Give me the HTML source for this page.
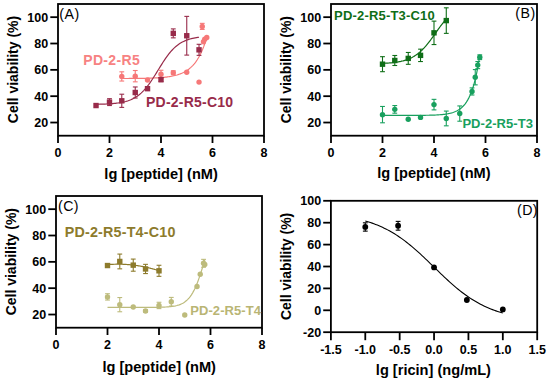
<!DOCTYPE html>
<html><head><meta charset="utf-8"><style>
html,body{margin:0;padding:0;background:#fff;overflow:hidden;}
svg{display:block;font-family:"Liberation Sans", sans-serif;}
</style></head><body>
<svg width="550" height="381" viewBox="0 0 550 381">
<rect width="550" height="381" fill="#fff"/>
<rect x="58.00" y="4.00" width="206.00" height="131.70" fill="none" stroke="#000" stroke-width="1.8"/>
<line x1="50.30" y1="122.53" x2="58.00" y2="122.53" stroke="#000" stroke-width="1.8" />
<text x="48.20" y="126.93" font-size="12.5" text-anchor="end" font-weight="bold" fill="#000" >20</text>
<line x1="50.30" y1="96.19" x2="58.00" y2="96.19" stroke="#000" stroke-width="1.8" />
<text x="48.20" y="100.59" font-size="12.5" text-anchor="end" font-weight="bold" fill="#000" >40</text>
<line x1="50.30" y1="69.85" x2="58.00" y2="69.85" stroke="#000" stroke-width="1.8" />
<text x="48.20" y="74.25" font-size="12.5" text-anchor="end" font-weight="bold" fill="#000" >60</text>
<line x1="50.30" y1="43.51" x2="58.00" y2="43.51" stroke="#000" stroke-width="1.8" />
<text x="48.20" y="47.91" font-size="12.5" text-anchor="end" font-weight="bold" fill="#000" >80</text>
<line x1="50.30" y1="17.17" x2="58.00" y2="17.17" stroke="#000" stroke-width="1.8" />
<text x="48.20" y="21.57" font-size="12.5" text-anchor="end" font-weight="bold" fill="#000" >100</text>
<line x1="58.00" y1="135.70" x2="58.00" y2="143.00" stroke="#000" stroke-width="1.8" />
<text x="58.00" y="156.90" font-size="12.5" text-anchor="middle" font-weight="bold" fill="#000" >0</text>
<line x1="109.50" y1="135.70" x2="109.50" y2="143.00" stroke="#000" stroke-width="1.8" />
<text x="109.50" y="156.90" font-size="12.5" text-anchor="middle" font-weight="bold" fill="#000" >2</text>
<line x1="161.00" y1="135.70" x2="161.00" y2="143.00" stroke="#000" stroke-width="1.8" />
<text x="161.00" y="156.90" font-size="12.5" text-anchor="middle" font-weight="bold" fill="#000" >4</text>
<line x1="212.50" y1="135.70" x2="212.50" y2="143.00" stroke="#000" stroke-width="1.8" />
<text x="212.50" y="156.90" font-size="12.5" text-anchor="middle" font-weight="bold" fill="#000" >6</text>
<line x1="264.00" y1="135.70" x2="264.00" y2="143.00" stroke="#000" stroke-width="1.8" />
<text x="264.00" y="156.90" font-size="12.5" text-anchor="middle" font-weight="bold" fill="#000" >8</text>
<polyline points="121.78,78.50 122.85,78.50 123.91,78.50 124.97,78.49 126.03,78.49 127.10,78.48 128.16,78.48 129.22,78.47 130.28,78.46 131.35,78.46 132.41,78.45 133.47,78.44 134.53,78.43 135.60,78.42 136.66,78.41 137.72,78.40 138.78,78.39 139.85,78.37 140.91,78.36 141.97,78.34 143.03,78.32 144.10,78.30 145.16,78.28 146.22,78.26 147.28,78.23 148.35,78.20 149.41,78.17 150.47,78.14 151.53,78.10 152.60,78.06 153.66,78.01 154.72,77.97 155.78,77.91 156.85,77.86 157.91,77.79 158.97,77.73 160.03,77.65 161.10,77.57 162.16,77.48 163.22,77.39 164.28,77.28 165.35,77.17 166.41,77.04 167.47,76.91 168.53,76.76 169.60,76.59 170.66,76.42 171.72,76.22 172.78,76.01 173.85,75.78 174.91,75.53 175.97,75.26 177.03,74.96 178.10,74.63 179.16,74.27 180.22,73.89 181.28,73.46 182.35,73.00 183.41,72.49 184.47,71.94 185.53,71.34 186.60,70.69 187.66,69.97 188.72,69.19 189.78,68.34 190.85,67.41 191.91,66.40 192.97,65.29 194.03,64.09 195.10,62.77 196.16,61.34 197.22,59.77 198.28,58.06 199.35,56.20 200.41,54.16 201.47,51.94 202.53,49.52 203.60,46.88 204.66,44.00 205.72,40.85 206.78,37.42" fill="none" stroke="#F67878" stroke-width="1.2"/>
<polyline points="96.03,104.30 97.32,104.28 98.61,104.25 99.90,104.22 101.18,104.18 102.47,104.14 103.76,104.10 105.05,104.05 106.33,103.99 107.62,103.93 108.91,103.86 110.20,103.78 111.48,103.68 112.77,103.58 114.06,103.46 115.35,103.33 116.63,103.19 117.92,103.02 119.21,102.83 120.50,102.62 121.78,102.39 123.07,102.12 124.36,101.83 125.65,101.49 126.93,101.12 128.22,100.71 129.51,100.24 130.80,99.73 132.08,99.16 133.37,98.52 134.66,97.82 135.95,97.04 137.23,96.19 138.52,95.25 139.81,94.23 141.10,93.11 142.38,91.90 143.67,90.59 144.96,89.18 146.25,87.68 147.53,86.07 148.82,84.38 150.11,82.59 151.40,80.72 152.68,78.78 153.97,76.78 155.26,74.74 156.55,72.66 157.83,70.56 159.12,68.46 160.41,66.37 161.70,64.31 162.98,62.29 164.27,60.33 165.56,58.43 166.85,56.62 168.13,54.89 169.42,53.25 170.71,51.70 172.00,50.26 173.28,48.92 174.57,47.67 175.86,46.52 177.15,45.46 178.43,44.49 179.72,43.61 181.01,42.81 182.30,42.08 183.58,41.42 184.87,40.83 186.16,40.29 187.45,39.81 188.73,39.38 190.02,38.99 191.31,38.65 192.60,38.34 193.88,38.06 195.17,37.82 196.46,37.60 197.75,37.40 199.03,37.23" fill="none" stroke="#982B4A" stroke-width="1.2"/>
<line x1="121.78" y1="71.83" x2="121.78" y2="81.04" stroke="#F67878" stroke-width="1.1" />
<line x1="119.38" y1="71.83" x2="124.18" y2="71.83" stroke="#F67878" stroke-width="1.1" />
<line x1="119.38" y1="81.04" x2="124.18" y2="81.04" stroke="#F67878" stroke-width="1.1" />
<circle cx="121.78" cy="76.44" r="2.7" fill="#F67878"/>
<line x1="135.25" y1="70.51" x2="135.25" y2="81.83" stroke="#F67878" stroke-width="1.1" />
<line x1="132.85" y1="70.51" x2="137.65" y2="70.51" stroke="#F67878" stroke-width="1.1" />
<line x1="132.85" y1="81.83" x2="137.65" y2="81.83" stroke="#F67878" stroke-width="1.1" />
<circle cx="135.25" cy="76.17" r="2.7" fill="#F67878"/>
<circle cx="147.53" cy="79.99" r="2.7" fill="#F67878"/>
<line x1="161.00" y1="70.25" x2="161.00" y2="78.15" stroke="#F67878" stroke-width="1.1" />
<line x1="158.60" y1="70.25" x2="163.40" y2="70.25" stroke="#F67878" stroke-width="1.1" />
<line x1="158.60" y1="78.15" x2="163.40" y2="78.15" stroke="#F67878" stroke-width="1.1" />
<circle cx="161.00" cy="74.20" r="2.7" fill="#F67878"/>
<line x1="173.28" y1="70.77" x2="173.28" y2="74.72" stroke="#F67878" stroke-width="1.1" />
<line x1="170.88" y1="70.77" x2="175.68" y2="70.77" stroke="#F67878" stroke-width="1.1" />
<line x1="170.88" y1="74.72" x2="175.68" y2="74.72" stroke="#F67878" stroke-width="1.1" />
<circle cx="173.28" cy="72.75" r="2.7" fill="#F67878"/>
<circle cx="186.75" cy="72.22" r="2.7" fill="#F67878"/>
<circle cx="199.03" cy="82.10" r="2.7" fill="#F67878"/>
<line x1="202.25" y1="23.36" x2="202.25" y2="29.42" stroke="#F67878" stroke-width="1.1" />
<line x1="199.85" y1="23.36" x2="204.65" y2="23.36" stroke="#F67878" stroke-width="1.1" />
<line x1="199.85" y1="29.42" x2="204.65" y2="29.42" stroke="#F67878" stroke-width="1.1" />
<circle cx="202.25" cy="26.39" r="2.7" fill="#F67878"/>
<circle cx="203.49" cy="41.80" r="2.7" fill="#F67878"/>
<circle cx="204.75" cy="39.16" r="2.7" fill="#F67878"/>
<circle cx="206.78" cy="37.45" r="2.7" fill="#F67878"/>
<rect x="93.33" y="102.84" width="5.4" height="5.4" fill="#982B4A"/>
<line x1="109.50" y1="98.69" x2="109.50" y2="105.54" stroke="#982B4A" stroke-width="1.1" />
<line x1="107.10" y1="98.69" x2="111.90" y2="98.69" stroke="#982B4A" stroke-width="1.1" />
<line x1="107.10" y1="105.54" x2="111.90" y2="105.54" stroke="#982B4A" stroke-width="1.1" />
<rect x="106.80" y="99.42" width="5.4" height="5.4" fill="#982B4A"/>
<line x1="121.78" y1="94.21" x2="121.78" y2="107.38" stroke="#982B4A" stroke-width="1.1" />
<line x1="119.38" y1="94.21" x2="124.18" y2="94.21" stroke="#982B4A" stroke-width="1.1" />
<line x1="119.38" y1="107.38" x2="124.18" y2="107.38" stroke="#982B4A" stroke-width="1.1" />
<rect x="119.08" y="98.10" width="5.4" height="5.4" fill="#982B4A"/>
<line x1="135.25" y1="86.97" x2="135.25" y2="98.03" stroke="#982B4A" stroke-width="1.1" />
<line x1="132.85" y1="86.97" x2="137.65" y2="86.97" stroke="#982B4A" stroke-width="1.1" />
<line x1="132.85" y1="98.03" x2="137.65" y2="98.03" stroke="#982B4A" stroke-width="1.1" />
<rect x="132.55" y="89.80" width="5.4" height="5.4" fill="#982B4A"/>
<rect x="144.83" y="85.98" width="5.4" height="5.4" fill="#982B4A"/>
<line x1="161.00" y1="77.49" x2="161.00" y2="81.70" stroke="#982B4A" stroke-width="1.1" />
<line x1="158.60" y1="77.49" x2="163.40" y2="77.49" stroke="#982B4A" stroke-width="1.1" />
<line x1="158.60" y1="81.70" x2="163.40" y2="81.70" stroke="#982B4A" stroke-width="1.1" />
<rect x="158.30" y="76.90" width="5.4" height="5.4" fill="#982B4A"/>
<line x1="173.28" y1="28.89" x2="173.28" y2="37.85" stroke="#982B4A" stroke-width="1.1" />
<line x1="170.88" y1="28.89" x2="175.68" y2="28.89" stroke="#982B4A" stroke-width="1.1" />
<line x1="170.88" y1="37.85" x2="175.68" y2="37.85" stroke="#982B4A" stroke-width="1.1" />
<rect x="170.58" y="30.67" width="5.4" height="5.4" fill="#982B4A"/>
<line x1="186.75" y1="16.38" x2="186.75" y2="55.10" stroke="#982B4A" stroke-width="1.1" />
<line x1="184.35" y1="16.38" x2="189.15" y2="16.38" stroke="#982B4A" stroke-width="1.1" />
<line x1="184.35" y1="55.10" x2="189.15" y2="55.10" stroke="#982B4A" stroke-width="1.1" />
<rect x="184.05" y="33.04" width="5.4" height="5.4" fill="#982B4A"/>
<line x1="199.03" y1="44.30" x2="199.03" y2="55.36" stroke="#982B4A" stroke-width="1.1" />
<line x1="196.63" y1="44.30" x2="201.43" y2="44.30" stroke="#982B4A" stroke-width="1.1" />
<line x1="196.63" y1="55.36" x2="201.43" y2="55.36" stroke="#982B4A" stroke-width="1.1" />
<rect x="196.33" y="47.13" width="5.4" height="5.4" fill="#982B4A"/>
<text x="83.20" y="64.80" font-size="14" text-anchor="start" font-weight="bold" fill="#F78282" letter-spacing="0.35">PD-2-R5</text>
<text x="146.00" y="106.80" font-size="14" text-anchor="start" font-weight="bold" fill="#982B4A" letter-spacing="0.22">PD-2-R5-C10</text>
<text x="59.30" y="18.50" font-size="14.2" text-anchor="start" font-weight="normal" fill="#000" letter-spacing="0.45">(A)</text>
<rect x="331.00" y="4.00" width="206.00" height="131.70" fill="none" stroke="#000" stroke-width="1.8"/>
<line x1="323.30" y1="122.53" x2="331.00" y2="122.53" stroke="#000" stroke-width="1.8" />
<text x="321.20" y="126.93" font-size="12.5" text-anchor="end" font-weight="bold" fill="#000" >20</text>
<line x1="323.30" y1="96.19" x2="331.00" y2="96.19" stroke="#000" stroke-width="1.8" />
<text x="321.20" y="100.59" font-size="12.5" text-anchor="end" font-weight="bold" fill="#000" >40</text>
<line x1="323.30" y1="69.85" x2="331.00" y2="69.85" stroke="#000" stroke-width="1.8" />
<text x="321.20" y="74.25" font-size="12.5" text-anchor="end" font-weight="bold" fill="#000" >60</text>
<line x1="323.30" y1="43.51" x2="331.00" y2="43.51" stroke="#000" stroke-width="1.8" />
<text x="321.20" y="47.91" font-size="12.5" text-anchor="end" font-weight="bold" fill="#000" >80</text>
<line x1="323.30" y1="17.17" x2="331.00" y2="17.17" stroke="#000" stroke-width="1.8" />
<text x="321.20" y="21.57" font-size="12.5" text-anchor="end" font-weight="bold" fill="#000" >100</text>
<line x1="331.00" y1="135.70" x2="331.00" y2="143.00" stroke="#000" stroke-width="1.8" />
<text x="331.00" y="156.90" font-size="12.5" text-anchor="middle" font-weight="bold" fill="#000" >0</text>
<line x1="382.50" y1="135.70" x2="382.50" y2="143.00" stroke="#000" stroke-width="1.8" />
<text x="382.50" y="156.90" font-size="12.5" text-anchor="middle" font-weight="bold" fill="#000" >2</text>
<line x1="434.00" y1="135.70" x2="434.00" y2="143.00" stroke="#000" stroke-width="1.8" />
<text x="434.00" y="156.90" font-size="12.5" text-anchor="middle" font-weight="bold" fill="#000" >4</text>
<line x1="485.50" y1="135.70" x2="485.50" y2="143.00" stroke="#000" stroke-width="1.8" />
<text x="485.50" y="156.90" font-size="12.5" text-anchor="middle" font-weight="bold" fill="#000" >6</text>
<line x1="537.00" y1="135.70" x2="537.00" y2="143.00" stroke="#000" stroke-width="1.8" />
<text x="537.00" y="156.90" font-size="12.5" text-anchor="middle" font-weight="bold" fill="#000" >8</text>
<polyline points="382.50,63.37 383.30,63.33 384.09,63.29 384.89,63.25 385.69,63.21 386.49,63.16 387.28,63.11 388.08,63.06 388.88,63.00 389.68,62.93 390.47,62.87 391.27,62.79 392.07,62.72 392.86,62.63 393.66,62.54 394.46,62.45 395.26,62.34 396.05,62.23 396.85,62.12 397.65,61.99 398.45,61.85 399.24,61.71 400.04,61.55 400.84,61.39 401.63,61.21 402.43,61.02 403.23,60.82 404.03,60.60 404.82,60.37 405.62,60.12 406.42,59.86 407.22,59.58 408.01,59.28 408.81,58.96 409.61,58.62 410.40,58.26 411.20,57.88 412.00,57.48 412.80,57.05 413.59,56.60 414.39,56.12 415.19,55.61 415.99,55.08 416.78,54.51 417.58,53.92 418.38,53.30 419.18,52.65 419.97,51.96 420.77,51.25 421.57,50.50 422.36,49.72 423.16,48.91 423.96,48.07 424.76,47.20 425.55,46.30 426.35,45.37 427.15,44.41 427.95,43.42 428.74,42.41 429.54,41.38 430.34,40.33 431.13,39.25 431.93,38.17 432.73,37.06 433.53,35.95 434.32,34.83 435.12,33.70 435.92,32.58 436.72,31.45 437.51,30.32 438.31,29.21 439.11,28.10 439.90,27.00 440.70,25.92 441.50,24.86 442.30,23.82 443.09,22.79 443.89,21.80 444.69,20.82 445.49,19.88 446.28,18.96" fill="none" stroke="#0F6E17" stroke-width="1.2"/>
<polyline points="382.50,115.42 383.72,115.42 384.93,115.42 386.15,115.42 387.36,115.42 388.58,115.42 389.80,115.42 391.01,115.42 392.23,115.42 393.44,115.41 394.66,115.41 395.88,115.41 397.09,115.41 398.31,115.41 399.52,115.41 400.74,115.41 401.96,115.41 403.17,115.41 404.39,115.41 405.60,115.40 406.82,115.40 408.04,115.40 409.25,115.40 410.47,115.39 411.69,115.39 412.90,115.39 414.12,115.38 415.33,115.38 416.55,115.37 417.77,115.36 418.98,115.35 420.20,115.34 421.41,115.33 422.63,115.32 423.85,115.31 425.06,115.29 426.28,115.27 427.49,115.25 428.71,115.23 429.93,115.20 431.14,115.16 432.36,115.13 433.57,115.09 434.79,115.04 436.01,114.98 437.22,114.92 438.44,114.84 439.65,114.76 440.87,114.66 442.09,114.55 443.30,114.42 444.52,114.28 445.73,114.11 446.95,113.92 448.17,113.70 449.38,113.45 450.60,113.16 451.81,112.83 453.03,112.45 454.25,112.02 455.46,111.52 456.68,110.94 457.89,110.29 459.11,109.54 460.33,108.68 461.54,107.69 462.76,106.56 463.97,105.26 465.19,103.77 466.41,102.06 467.62,100.10 468.84,97.86 470.06,95.29 471.27,92.34 472.49,88.95 473.70,85.08 474.92,80.63 476.14,75.53 477.35,69.69 478.57,62.99 479.78,55.30" fill="none" stroke="#18A05E" stroke-width="1.2"/>
<line x1="382.50" y1="106.46" x2="382.50" y2="122.79" stroke="#18A05E" stroke-width="1.1" />
<line x1="380.10" y1="106.46" x2="384.90" y2="106.46" stroke="#18A05E" stroke-width="1.1" />
<line x1="380.10" y1="122.79" x2="384.90" y2="122.79" stroke="#18A05E" stroke-width="1.1" />
<circle cx="382.50" cy="114.63" r="2.7" fill="#18A05E"/>
<line x1="394.78" y1="105.54" x2="394.78" y2="113.18" stroke="#18A05E" stroke-width="1.1" />
<line x1="392.38" y1="105.54" x2="397.18" y2="105.54" stroke="#18A05E" stroke-width="1.1" />
<line x1="392.38" y1="113.18" x2="397.18" y2="113.18" stroke="#18A05E" stroke-width="1.1" />
<circle cx="394.78" cy="109.36" r="2.7" fill="#18A05E"/>
<circle cx="408.25" cy="119.24" r="2.7" fill="#18A05E"/>
<circle cx="420.53" cy="117.39" r="2.7" fill="#18A05E"/>
<line x1="434.00" y1="99.35" x2="434.00" y2="109.89" stroke="#18A05E" stroke-width="1.1" />
<line x1="431.60" y1="99.35" x2="436.40" y2="99.35" stroke="#18A05E" stroke-width="1.1" />
<line x1="431.60" y1="109.89" x2="436.40" y2="109.89" stroke="#18A05E" stroke-width="1.1" />
<circle cx="434.00" cy="104.62" r="2.7" fill="#18A05E"/>
<line x1="446.28" y1="111.07" x2="446.28" y2="125.82" stroke="#18A05E" stroke-width="1.1" />
<line x1="443.88" y1="111.07" x2="448.68" y2="111.07" stroke="#18A05E" stroke-width="1.1" />
<line x1="443.88" y1="125.82" x2="448.68" y2="125.82" stroke="#18A05E" stroke-width="1.1" />
<circle cx="446.28" cy="118.45" r="2.7" fill="#18A05E"/>
<line x1="459.75" y1="105.94" x2="459.75" y2="121.21" stroke="#18A05E" stroke-width="1.1" />
<line x1="457.35" y1="105.94" x2="462.15" y2="105.94" stroke="#18A05E" stroke-width="1.1" />
<line x1="457.35" y1="121.21" x2="462.15" y2="121.21" stroke="#18A05E" stroke-width="1.1" />
<circle cx="459.75" cy="113.57" r="2.7" fill="#18A05E"/>
<line x1="472.03" y1="87.89" x2="472.03" y2="95.00" stroke="#18A05E" stroke-width="1.1" />
<line x1="469.63" y1="87.89" x2="474.43" y2="87.89" stroke="#18A05E" stroke-width="1.1" />
<line x1="469.63" y1="95.00" x2="474.43" y2="95.00" stroke="#18A05E" stroke-width="1.1" />
<circle cx="472.03" cy="91.45" r="2.7" fill="#18A05E"/>
<line x1="475.25" y1="69.59" x2="475.25" y2="84.86" stroke="#18A05E" stroke-width="1.1" />
<line x1="472.85" y1="69.59" x2="477.65" y2="69.59" stroke="#18A05E" stroke-width="1.1" />
<line x1="472.85" y1="84.86" x2="477.65" y2="84.86" stroke="#18A05E" stroke-width="1.1" />
<circle cx="475.25" cy="77.23" r="2.7" fill="#18A05E"/>
<line x1="477.75" y1="61.55" x2="477.75" y2="68.66" stroke="#18A05E" stroke-width="1.1" />
<line x1="475.35" y1="61.55" x2="480.15" y2="61.55" stroke="#18A05E" stroke-width="1.1" />
<line x1="475.35" y1="68.66" x2="480.15" y2="68.66" stroke="#18A05E" stroke-width="1.1" />
<circle cx="477.75" cy="65.11" r="2.7" fill="#18A05E"/>
<line x1="479.78" y1="54.84" x2="479.78" y2="59.58" stroke="#18A05E" stroke-width="1.1" />
<line x1="477.38" y1="54.84" x2="482.18" y2="54.84" stroke="#18A05E" stroke-width="1.1" />
<line x1="477.38" y1="59.58" x2="482.18" y2="59.58" stroke="#18A05E" stroke-width="1.1" />
<circle cx="479.78" cy="57.21" r="2.7" fill="#18A05E"/>
<line x1="382.50" y1="56.68" x2="382.50" y2="71.69" stroke="#0F6E17" stroke-width="1.1" />
<line x1="380.10" y1="56.68" x2="384.90" y2="56.68" stroke="#0F6E17" stroke-width="1.1" />
<line x1="380.10" y1="71.69" x2="384.90" y2="71.69" stroke="#0F6E17" stroke-width="1.1" />
<rect x="379.80" y="61.49" width="5.4" height="5.4" fill="#0F6E17"/>
<line x1="394.78" y1="55.49" x2="394.78" y2="65.50" stroke="#0F6E17" stroke-width="1.1" />
<line x1="392.38" y1="55.49" x2="397.18" y2="55.49" stroke="#0F6E17" stroke-width="1.1" />
<line x1="392.38" y1="65.50" x2="397.18" y2="65.50" stroke="#0F6E17" stroke-width="1.1" />
<rect x="392.08" y="57.80" width="5.4" height="5.4" fill="#0F6E17"/>
<line x1="408.25" y1="52.47" x2="408.25" y2="64.32" stroke="#0F6E17" stroke-width="1.1" />
<line x1="405.85" y1="52.47" x2="410.65" y2="52.47" stroke="#0F6E17" stroke-width="1.1" />
<line x1="405.85" y1="64.32" x2="410.65" y2="64.32" stroke="#0F6E17" stroke-width="1.1" />
<rect x="405.55" y="55.69" width="5.4" height="5.4" fill="#0F6E17"/>
<line x1="420.53" y1="49.17" x2="420.53" y2="61.55" stroke="#0F6E17" stroke-width="1.1" />
<line x1="418.13" y1="49.17" x2="422.93" y2="49.17" stroke="#0F6E17" stroke-width="1.1" />
<line x1="418.13" y1="61.55" x2="422.93" y2="61.55" stroke="#0F6E17" stroke-width="1.1" />
<rect x="417.83" y="52.66" width="5.4" height="5.4" fill="#0F6E17"/>
<line x1="434.00" y1="21.12" x2="434.00" y2="44.56" stroke="#0F6E17" stroke-width="1.1" />
<line x1="431.60" y1="21.12" x2="436.40" y2="21.12" stroke="#0F6E17" stroke-width="1.1" />
<line x1="431.60" y1="44.56" x2="436.40" y2="44.56" stroke="#0F6E17" stroke-width="1.1" />
<rect x="431.30" y="30.14" width="5.4" height="5.4" fill="#0F6E17"/>
<line x1="446.28" y1="7.82" x2="446.28" y2="33.37" stroke="#0F6E17" stroke-width="1.1" />
<line x1="443.88" y1="7.82" x2="448.68" y2="7.82" stroke="#0F6E17" stroke-width="1.1" />
<line x1="443.88" y1="33.37" x2="448.68" y2="33.37" stroke="#0F6E17" stroke-width="1.1" />
<rect x="443.58" y="17.89" width="5.4" height="5.4" fill="#0F6E17"/>
<text x="334.10" y="20.00" font-size="13" text-anchor="start" font-weight="bold" fill="#0F6E17" letter-spacing="0.18">PD-2-R5-T3-C10</text>
<text x="462.40" y="128.00" font-size="13" text-anchor="start" font-weight="bold" fill="#18A05E" letter-spacing="0.05">PD-2-R5-T3</text>
<text x="515.30" y="17.90" font-size="14.2" text-anchor="start" font-weight="normal" fill="#000" letter-spacing="0.45">(B)</text>
<rect x="56.00" y="196.00" width="206.00" height="131.70" fill="none" stroke="#000" stroke-width="1.8"/>
<line x1="48.30" y1="314.53" x2="56.00" y2="314.53" stroke="#000" stroke-width="1.8" />
<text x="46.20" y="318.93" font-size="12.5" text-anchor="end" font-weight="bold" fill="#000" >20</text>
<line x1="48.30" y1="288.19" x2="56.00" y2="288.19" stroke="#000" stroke-width="1.8" />
<text x="46.20" y="292.59" font-size="12.5" text-anchor="end" font-weight="bold" fill="#000" >40</text>
<line x1="48.30" y1="261.85" x2="56.00" y2="261.85" stroke="#000" stroke-width="1.8" />
<text x="46.20" y="266.25" font-size="12.5" text-anchor="end" font-weight="bold" fill="#000" >60</text>
<line x1="48.30" y1="235.51" x2="56.00" y2="235.51" stroke="#000" stroke-width="1.8" />
<text x="46.20" y="239.91" font-size="12.5" text-anchor="end" font-weight="bold" fill="#000" >80</text>
<line x1="48.30" y1="209.17" x2="56.00" y2="209.17" stroke="#000" stroke-width="1.8" />
<text x="46.20" y="213.57" font-size="12.5" text-anchor="end" font-weight="bold" fill="#000" >100</text>
<line x1="56.00" y1="327.70" x2="56.00" y2="335.00" stroke="#000" stroke-width="1.8" />
<text x="56.00" y="348.90" font-size="12.5" text-anchor="middle" font-weight="bold" fill="#000" >0</text>
<line x1="107.50" y1="327.70" x2="107.50" y2="335.00" stroke="#000" stroke-width="1.8" />
<text x="107.50" y="348.90" font-size="12.5" text-anchor="middle" font-weight="bold" fill="#000" >2</text>
<line x1="159.00" y1="327.70" x2="159.00" y2="335.00" stroke="#000" stroke-width="1.8" />
<text x="159.00" y="348.90" font-size="12.5" text-anchor="middle" font-weight="bold" fill="#000" >4</text>
<line x1="210.50" y1="327.70" x2="210.50" y2="335.00" stroke="#000" stroke-width="1.8" />
<text x="210.50" y="348.90" font-size="12.5" text-anchor="middle" font-weight="bold" fill="#000" >6</text>
<line x1="262.00" y1="327.70" x2="262.00" y2="335.00" stroke="#000" stroke-width="1.8" />
<text x="262.00" y="348.90" font-size="12.5" text-anchor="middle" font-weight="bold" fill="#000" >8</text>
<polyline points="107.50,264.65 108.14,264.60 108.79,264.55 109.43,264.50 110.08,264.46 110.72,264.42 111.36,264.38 112.01,264.35 112.65,264.32 113.29,264.29 113.94,264.27 114.58,264.25 115.22,264.23 115.87,264.22 116.51,264.21 117.16,264.20 117.80,264.20 118.44,264.20 119.09,264.20 119.73,264.21 120.38,264.22 121.02,264.23 121.66,264.24 122.31,264.26 122.95,264.29 123.59,264.31 124.24,264.34 124.88,264.37 125.53,264.41 126.17,264.45 126.81,264.49 127.46,264.53 128.10,264.58 128.74,264.63 129.39,264.69 130.03,264.74 130.68,264.81 131.32,264.87 131.96,264.94 132.61,265.01 133.25,265.08 133.89,265.16 134.54,265.24 135.18,265.32 135.82,265.41 136.47,265.50 137.11,265.60 137.76,265.69 138.40,265.79 139.04,265.90 139.69,266.00 140.33,266.11 140.97,266.22 141.62,266.34 142.26,266.46 142.91,266.58 143.55,266.71 144.19,266.84 144.84,266.97 145.48,267.11 146.12,267.25 146.77,267.39 147.41,267.53 148.06,267.68 148.70,267.83 149.34,267.99 149.99,268.15 150.63,268.31 151.28,268.47 151.92,268.64 152.56,268.81 153.21,268.99 153.85,269.17 154.49,269.35 155.14,269.53 155.78,269.72 156.43,269.91 157.07,270.11 157.71,270.30 158.36,270.50 159.00,270.71" fill="none" stroke="#8D7B2C" stroke-width="1.2"/>
<polyline points="107.50,307.42 108.72,307.42 109.93,307.42 111.15,307.42 112.36,307.42 113.58,307.42 114.80,307.42 116.01,307.42 117.23,307.42 118.44,307.42 119.66,307.42 120.88,307.42 122.09,307.42 123.31,307.42 124.52,307.42 125.74,307.42 126.96,307.42 128.17,307.42 129.39,307.42 130.60,307.42 131.82,307.41 133.04,307.41 134.25,307.41 135.47,307.41 136.69,307.41 137.90,307.41 139.12,307.41 140.33,307.41 141.55,307.40 142.77,307.40 143.98,307.40 145.20,307.39 146.41,307.39 147.63,307.38 148.85,307.38 150.06,307.37 151.28,307.36 152.49,307.35 153.71,307.34 154.93,307.33 156.14,307.31 157.36,307.29 158.57,307.27 159.79,307.24 161.01,307.20 162.22,307.17 163.44,307.12 164.65,307.06 165.87,307.00 167.09,306.92 168.30,306.83 169.52,306.73 170.73,306.60 171.95,306.45 173.17,306.28 174.38,306.07 175.60,305.83 176.81,305.54 178.03,305.20 179.25,304.81 180.46,304.34 181.68,303.80 182.89,303.17 184.11,302.43 185.33,301.57 186.54,300.57 187.76,299.41 188.97,298.08 190.19,296.56 191.41,294.82 192.62,292.86 193.84,290.64 195.06,288.16 196.27,285.42 197.49,282.42 198.70,279.15 199.92,275.64 201.14,271.92 202.35,268.02 203.57,263.98 204.78,259.87" fill="none" stroke="#BDBB7C" stroke-width="1.2"/>
<line x1="107.50" y1="293.72" x2="107.50" y2="300.04" stroke="#BDBB7C" stroke-width="1.1" />
<line x1="105.10" y1="293.72" x2="109.90" y2="293.72" stroke="#BDBB7C" stroke-width="1.1" />
<line x1="105.10" y1="300.04" x2="109.90" y2="300.04" stroke="#BDBB7C" stroke-width="1.1" />
<circle cx="107.50" cy="296.88" r="2.7" fill="#BDBB7C"/>
<line x1="119.78" y1="297.54" x2="119.78" y2="311.76" stroke="#BDBB7C" stroke-width="1.1" />
<line x1="117.38" y1="297.54" x2="122.18" y2="297.54" stroke="#BDBB7C" stroke-width="1.1" />
<line x1="117.38" y1="311.76" x2="122.18" y2="311.76" stroke="#BDBB7C" stroke-width="1.1" />
<circle cx="119.78" cy="304.65" r="2.7" fill="#BDBB7C"/>
<circle cx="133.25" cy="307.02" r="2.7" fill="#BDBB7C"/>
<line x1="145.53" y1="309.66" x2="145.53" y2="312.29" stroke="#BDBB7C" stroke-width="1.1" />
<line x1="143.13" y1="309.66" x2="147.93" y2="309.66" stroke="#BDBB7C" stroke-width="1.1" />
<line x1="143.13" y1="312.29" x2="147.93" y2="312.29" stroke="#BDBB7C" stroke-width="1.1" />
<circle cx="145.53" cy="310.97" r="2.7" fill="#BDBB7C"/>
<line x1="159.00" y1="302.28" x2="159.00" y2="308.60" stroke="#BDBB7C" stroke-width="1.1" />
<line x1="156.60" y1="302.28" x2="161.40" y2="302.28" stroke="#BDBB7C" stroke-width="1.1" />
<line x1="156.60" y1="308.60" x2="161.40" y2="308.60" stroke="#BDBB7C" stroke-width="1.1" />
<circle cx="159.00" cy="305.44" r="2.7" fill="#BDBB7C"/>
<line x1="171.28" y1="297.41" x2="171.28" y2="306.10" stroke="#BDBB7C" stroke-width="1.1" />
<line x1="168.88" y1="297.41" x2="173.68" y2="297.41" stroke="#BDBB7C" stroke-width="1.1" />
<line x1="168.88" y1="306.10" x2="173.68" y2="306.10" stroke="#BDBB7C" stroke-width="1.1" />
<circle cx="171.28" cy="301.76" r="2.7" fill="#BDBB7C"/>
<circle cx="184.75" cy="315.06" r="2.7" fill="#BDBB7C"/>
<circle cx="197.03" cy="286.48" r="2.7" fill="#BDBB7C"/>
<circle cx="200.25" cy="274.23" r="2.7" fill="#BDBB7C"/>
<line x1="203.55" y1="259.35" x2="203.55" y2="267.25" stroke="#BDBB7C" stroke-width="1.1" />
<line x1="201.15" y1="259.35" x2="205.95" y2="259.35" stroke="#BDBB7C" stroke-width="1.1" />
<line x1="201.15" y1="267.25" x2="205.95" y2="267.25" stroke="#BDBB7C" stroke-width="1.1" />
<circle cx="203.55" cy="263.30" r="2.7" fill="#BDBB7C"/>
<circle cx="204.78" cy="264.48" r="2.7" fill="#BDBB7C"/>
<rect x="104.80" y="262.84" width="5.4" height="5.4" fill="#8D7B2C"/>
<line x1="119.78" y1="254.08" x2="119.78" y2="268.83" stroke="#8D7B2C" stroke-width="1.1" />
<line x1="117.38" y1="254.08" x2="122.18" y2="254.08" stroke="#8D7B2C" stroke-width="1.1" />
<line x1="117.38" y1="268.83" x2="122.18" y2="268.83" stroke="#8D7B2C" stroke-width="1.1" />
<rect x="117.08" y="258.75" width="5.4" height="5.4" fill="#8D7B2C"/>
<line x1="133.25" y1="259.08" x2="133.25" y2="271.20" stroke="#8D7B2C" stroke-width="1.1" />
<line x1="130.85" y1="259.08" x2="135.65" y2="259.08" stroke="#8D7B2C" stroke-width="1.1" />
<line x1="130.85" y1="271.20" x2="135.65" y2="271.20" stroke="#8D7B2C" stroke-width="1.1" />
<rect x="130.55" y="262.44" width="5.4" height="5.4" fill="#8D7B2C"/>
<line x1="145.53" y1="264.35" x2="145.53" y2="273.57" stroke="#8D7B2C" stroke-width="1.1" />
<line x1="143.13" y1="264.35" x2="147.93" y2="264.35" stroke="#8D7B2C" stroke-width="1.1" />
<line x1="143.13" y1="273.57" x2="147.93" y2="273.57" stroke="#8D7B2C" stroke-width="1.1" />
<rect x="142.83" y="266.26" width="5.4" height="5.4" fill="#8D7B2C"/>
<line x1="159.00" y1="265.27" x2="159.00" y2="276.34" stroke="#8D7B2C" stroke-width="1.1" />
<line x1="156.60" y1="265.27" x2="161.40" y2="265.27" stroke="#8D7B2C" stroke-width="1.1" />
<line x1="156.60" y1="276.34" x2="161.40" y2="276.34" stroke="#8D7B2C" stroke-width="1.1" />
<rect x="156.30" y="268.11" width="5.4" height="5.4" fill="#8D7B2C"/>
<text x="64.70" y="237.20" font-size="14.3" text-anchor="start" font-weight="bold" fill="#8D7B2C" letter-spacing="0.2">PD-2-R5-T4-C10</text>
<text x="190.20" y="314.80" font-size="13" text-anchor="start" font-weight="bold" fill="#B9B574" letter-spacing="0.08">PD-2-R5-T4</text>
<text x="58.00" y="211.10" font-size="14.2" text-anchor="start" font-weight="normal" fill="#000" letter-spacing="0.45">(C)</text>
<rect x="330.90" y="200.80" width="206.30" height="131.40" fill="none" stroke="#000" stroke-width="1.8"/>
<line x1="323.20" y1="332.20" x2="330.90" y2="332.20" stroke="#000" stroke-width="1.8" />
<text x="321.10" y="336.60" font-size="12.5" text-anchor="end" font-weight="bold" fill="#000" >-20</text>
<line x1="323.20" y1="310.30" x2="330.90" y2="310.30" stroke="#000" stroke-width="1.8" />
<text x="321.10" y="314.70" font-size="12.5" text-anchor="end" font-weight="bold" fill="#000" >0</text>
<line x1="323.20" y1="288.40" x2="330.90" y2="288.40" stroke="#000" stroke-width="1.8" />
<text x="321.10" y="292.80" font-size="12.5" text-anchor="end" font-weight="bold" fill="#000" >20</text>
<line x1="323.20" y1="266.50" x2="330.90" y2="266.50" stroke="#000" stroke-width="1.8" />
<text x="321.10" y="270.90" font-size="12.5" text-anchor="end" font-weight="bold" fill="#000" >40</text>
<line x1="323.20" y1="244.60" x2="330.90" y2="244.60" stroke="#000" stroke-width="1.8" />
<text x="321.10" y="249.00" font-size="12.5" text-anchor="end" font-weight="bold" fill="#000" >60</text>
<line x1="323.20" y1="222.70" x2="330.90" y2="222.70" stroke="#000" stroke-width="1.8" />
<text x="321.10" y="227.10" font-size="12.5" text-anchor="end" font-weight="bold" fill="#000" >80</text>
<line x1="323.20" y1="200.80" x2="330.90" y2="200.80" stroke="#000" stroke-width="1.8" />
<text x="321.10" y="205.20" font-size="12.5" text-anchor="end" font-weight="bold" fill="#000" >100</text>
<line x1="330.90" y1="332.20" x2="330.90" y2="340.20" stroke="#000" stroke-width="1.8" />
<text x="330.90" y="354.10" font-size="12.5" text-anchor="middle" font-weight="bold" fill="#000" >-1.5</text>
<line x1="365.28" y1="332.20" x2="365.28" y2="340.20" stroke="#000" stroke-width="1.8" />
<text x="365.28" y="354.10" font-size="12.5" text-anchor="middle" font-weight="bold" fill="#000" >-1.0</text>
<line x1="399.67" y1="332.20" x2="399.67" y2="340.20" stroke="#000" stroke-width="1.8" />
<text x="399.67" y="354.10" font-size="12.5" text-anchor="middle" font-weight="bold" fill="#000" >-0.5</text>
<line x1="434.05" y1="332.20" x2="434.05" y2="340.20" stroke="#000" stroke-width="1.8" />
<text x="434.05" y="354.10" font-size="12.5" text-anchor="middle" font-weight="bold" fill="#000" >0.0</text>
<line x1="468.43" y1="332.20" x2="468.43" y2="340.20" stroke="#000" stroke-width="1.8" />
<text x="468.43" y="354.10" font-size="12.5" text-anchor="middle" font-weight="bold" fill="#000" >0.5</text>
<line x1="502.82" y1="332.20" x2="502.82" y2="340.20" stroke="#000" stroke-width="1.8" />
<text x="502.82" y="354.10" font-size="12.5" text-anchor="middle" font-weight="bold" fill="#000" >1.0</text>
<line x1="537.20" y1="332.20" x2="537.20" y2="340.20" stroke="#000" stroke-width="1.8" />
<text x="537.20" y="354.10" font-size="12.5" text-anchor="middle" font-weight="bold" fill="#000" >1.5</text>
<polyline points="365.28,220.94 367.00,221.45 368.72,221.98 370.44,222.54 372.16,223.13 373.88,223.75 375.60,224.40 377.32,225.07 379.04,225.79 380.76,226.53 382.48,227.31 384.19,228.13 385.91,228.98 387.63,229.87 389.35,230.80 391.07,231.76 392.79,232.77 394.51,233.81 396.23,234.89 397.95,236.02 399.67,237.18 401.39,238.38 403.11,239.62 404.82,240.90 406.54,242.21 408.26,243.57 409.98,244.96 411.70,246.38 413.42,247.84 415.14,249.33 416.86,250.84 418.58,252.39 420.30,253.96 422.02,255.56 423.74,257.17 425.45,258.80 427.17,260.45 428.89,262.11 430.61,263.78 432.33,265.45 434.05,267.13 435.77,268.80 437.49,270.48 439.21,272.14 440.93,273.80 442.65,275.44 444.37,277.07 446.08,278.68 447.80,280.27 449.52,281.84 451.24,283.38 452.96,284.89 454.68,286.37 456.40,287.82 458.12,289.23 459.84,290.61 461.56,291.96 463.28,293.27 465.00,294.54 466.71,295.77 468.43,296.96 470.15,298.11 471.87,299.22 473.59,300.30 475.31,301.33 477.03,302.33 478.75,303.28 480.47,304.20 482.19,305.08 483.91,305.92 485.62,306.73 487.34,307.50 489.06,308.24 490.78,308.95 492.50,309.62 494.22,310.26 495.94,310.87 497.66,311.45 499.38,312.00 501.10,312.53 502.82,313.03" fill="none" stroke="#000" stroke-width="1.1"/>
<line x1="365.28" y1="222.81" x2="365.28" y2="231.13" stroke="#000" stroke-width="1.1" />
<line x1="362.88" y1="222.81" x2="367.68" y2="222.81" stroke="#000" stroke-width="1.1" />
<line x1="362.88" y1="231.13" x2="367.68" y2="231.13" stroke="#000" stroke-width="1.1" />
<circle cx="365.28" cy="226.97" r="2.9" fill="#000"/>
<line x1="398.09" y1="221.39" x2="398.09" y2="230.15" stroke="#000" stroke-width="1.1" />
<line x1="395.69" y1="221.39" x2="400.49" y2="221.39" stroke="#000" stroke-width="1.1" />
<line x1="395.69" y1="230.15" x2="400.49" y2="230.15" stroke="#000" stroke-width="1.1" />
<circle cx="398.09" cy="225.77" r="2.9" fill="#000"/>
<circle cx="434.05" cy="267.38" r="2.9" fill="#000"/>
<circle cx="466.85" cy="300.01" r="2.9" fill="#000"/>
<circle cx="502.82" cy="309.42" r="2.9" fill="#000"/>
<text x="517.00" y="214.50" font-size="14.2" text-anchor="start" font-weight="normal" fill="#000" letter-spacing="0.45">(D)</text>
<text x="0" y="0" font-size="14" font-weight="bold" text-anchor="middle" transform="translate(18.30,69.50) rotate(-90)">Cell viability (%)</text>
<text x="0" y="0" font-size="14" font-weight="bold" text-anchor="middle" transform="translate(291.40,69.70) rotate(-90)">Cell viability (%)</text>
<text x="0" y="0" font-size="14" font-weight="bold" text-anchor="middle" transform="translate(16.00,261.70) rotate(-90)">Cell viability (%)</text>
<text x="0" y="0" font-size="14" font-weight="bold" text-anchor="middle" transform="translate(290.80,266.40) rotate(-90)">Cell viability (%)</text>
<text x="161.10" y="178.60" font-size="14.6" text-anchor="middle" font-weight="bold" fill="#000" >lg [peptide] (nM)</text>
<text x="433.90" y="178.40" font-size="14.6" text-anchor="middle" font-weight="bold" fill="#000" >lg [peptide] (nM)</text>
<text x="159.20" y="371.60" font-size="14.6" text-anchor="middle" font-weight="bold" fill="#000" >lg [peptide] (nM)</text>
<text x="433.40" y="375.30" font-size="14.6" text-anchor="middle" font-weight="bold" fill="#000" >lg [ricin] (ng/mL)</text>
</svg></body></html>
